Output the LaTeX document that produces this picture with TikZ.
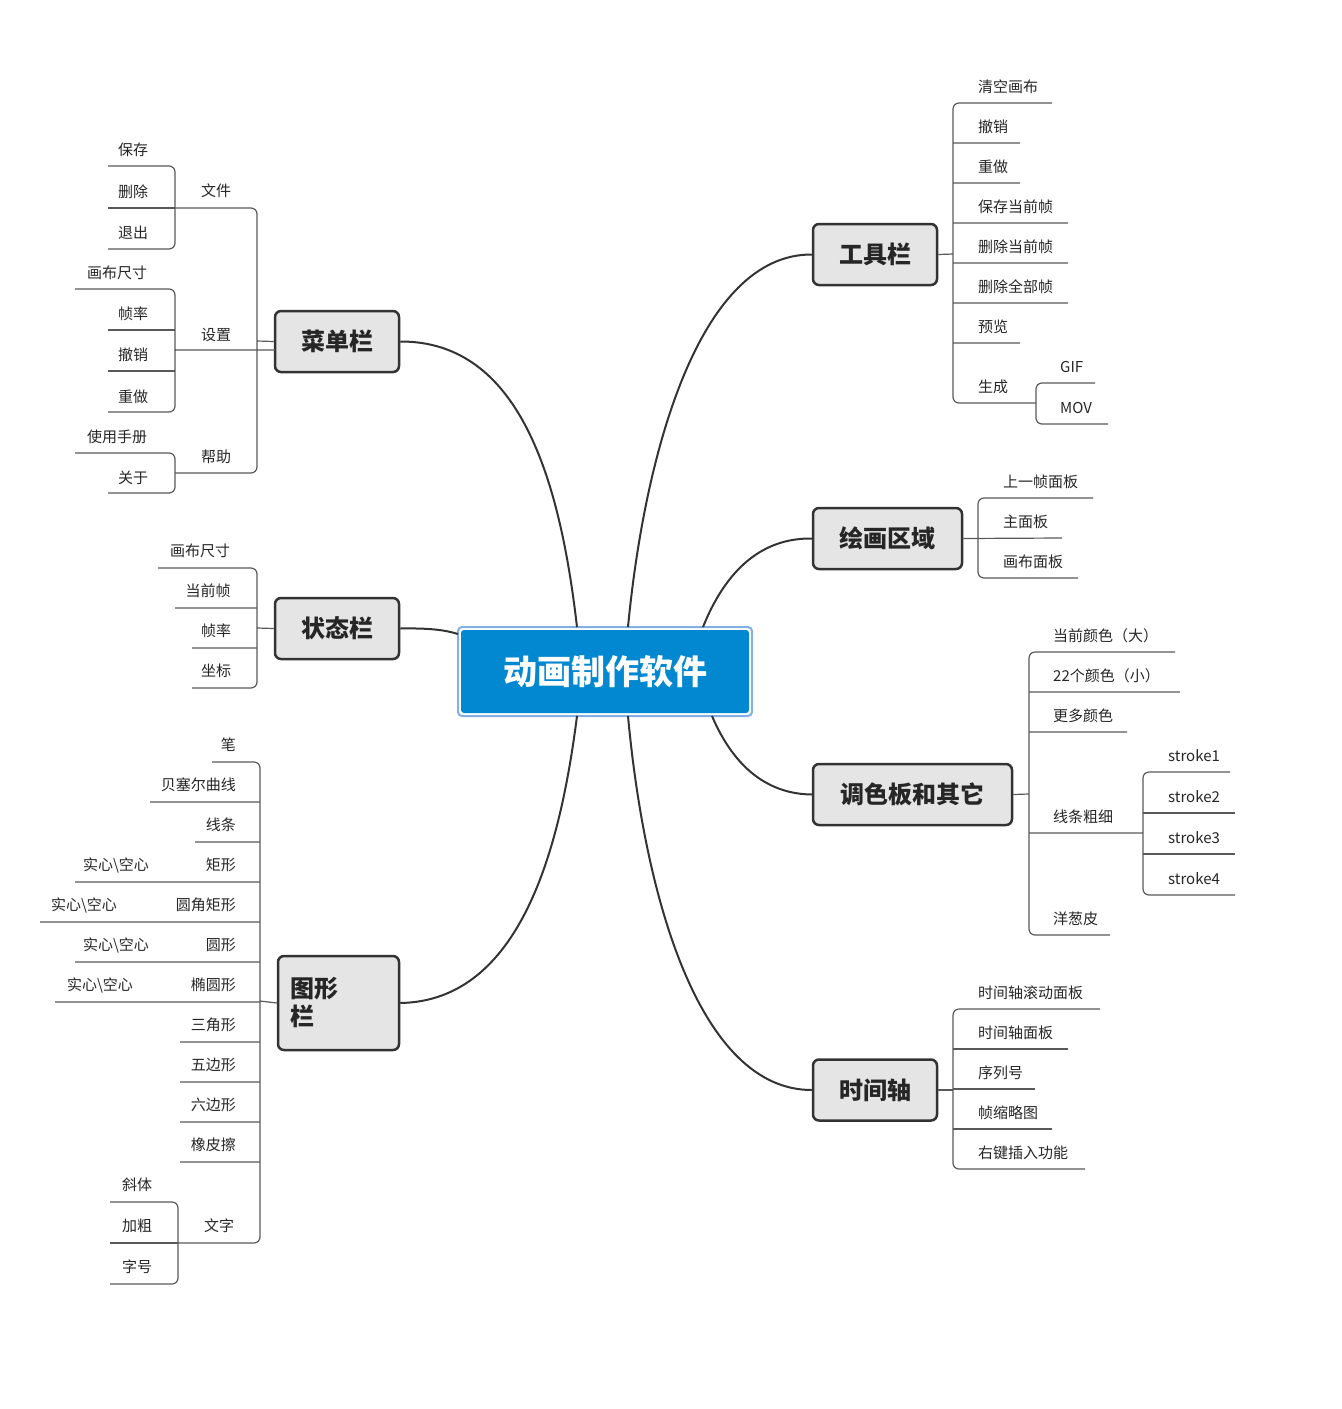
\documentclass[tikz,border=0pt]{standalone}
\usepackage{fontspec}
\newfontfamily\cjk{Noto Sans CJK SC}
\setmainfont{Noto Sans CJK SC}
\begin{document}
\begin{tikzpicture}[x=1pt,y=-1pt,
  lf/.style={font=\fontsize{15}{15}\selectfont, text=black!85, inner sep=0},
  ln/.style={draw=black!65, line width=1.2pt, rounded corners=6pt},
  mb/.style={draw=black!80, line width=2.5pt, fill=black!10, rounded corners=6pt, font=\fontsize{24}{28}\selectfont\bfseries, text=black!85, inner sep=0},
  cv/.style={draw=black!80, line width=2pt}]
\useasboundingbox (0,0) rectangle (1342,1409);
% central
\draw[draw=cyan!60!blue!50, line width=2pt, rounded corners=4pt] (458,627) rectangle (752,716);
\node[fill={rgb,255:red,2;green,136;blue,209}, rounded corners=3pt, minimum width=288pt, minimum height=83pt, text=white, font=\fontsize{34}{34}\selectfont\bfseries] (c) at (605,671.5) {动画制作软件};
% main nodes
\node[mb, minimum width=124pt, minimum height=61pt] (m1) at (337,341.5) {菜单栏};
\node[mb, minimum width=124pt, minimum height=61pt] (m2) at (337,628.5) {状态栏};
\node[mb, minimum width=121pt, minimum height=94pt, align=left, text width=96pt] (m3) at (338.5,1003) {图形\\栏};
\node[mb, minimum width=124pt, minimum height=61pt] (r1) at (875,254.5) {工具栏};
\node[mb, minimum width=149pt, minimum height=61pt] (r2) at (887.5,538.5) {绘画区域};
\node[mb, minimum width=199pt, minimum height=61pt] (r3) at (912.5,794.5) {调色板和其它};
\node[mb, minimum width=124pt, minimum height=61pt] (r4) at (875,1090) {时间轴};
% main curves
\draw[cv] (m1.east) .. controls (520,341) and (560,480) .. (577,627);
\draw[cv] (m2.east) .. controls (430,628) and (445,630) .. (458,634);
\draw[cv] (m3.east) .. controls (520,1001) and (560,850) .. (577,716);
\draw[cv] (628,627) .. controls (645,450) and (700,254) .. (r1.west);
\draw[cv] (703,627) .. controls (730,560) and (770,538) .. (r2.west);
\draw[cv] (712,716) .. controls (735,770) and (770,794) .. (r3.west);
\draw[cv] (628,716) .. controls (645,900) and (700,1090) .. (r4.west);
% ---- 菜单栏
\draw[ln] (175,208) -- (257,208) -- (257,473) -- (175,473);
\draw[ln] (175,350) -- (275,350) (257,341) -- (m1.west);
\node[lf] (a1) at (216,191) {文件};
\node[lf] (a2) at (216,335) {设置};
\node[lf] (a3) at (216,457) {帮助};
\draw[ln] (108,166) -- (175,166) -- (175,249) -- (108,249);
\draw[ln] (108,208) -- (175,208);
\node[lf] at (133,150) {保存};
\node[lf] at (133,192) {删除};
\node[lf] at (133,233) {退出};
\draw[ln] (75,289) -- (175,289) -- (175,412) -- (108,412);
\draw[ln] (108,330) -- (175,330) (108,371) -- (175,371) (175,350) -- (176,350);
\node[lf] at (117,273) {画布尺寸};
\node[lf] at (133,314) {帧率};
\node[lf] at (133,355) {撤销};
\node[lf] at (133,397) {重做};
\draw[ln] (75,453) -- (175,453) -- (175,493) -- (108,493);
\node[lf] at (117,437) {使用手册};
\node[lf] at (133,478) {关于};
% ---- 状态栏
\draw[ln] (158,568) -- (257,568) -- (257,688) -- (192,688);
\draw[ln] (175,608) -- (257,608) (192,648) -- (257,648) (257,628) -- (m2.west);
\node[lf] at (200,551) {画布尺寸};
\node[lf] at (208,591) {当前帧};
\node[lf] at (216,631) {帧率};
\node[lf] at (216,671) {坐标};
% ---- 图形栏
\draw[ln] (212,762) -- (260,762) -- (260,1243) -- (178,1243);
\draw[ln] (150,802) -- (260,802) (195,842) -- (260,842) (75,882) -- (260,882)
  (40,922) -- (260,922) (75,962) -- (260,962) (55,1002) -- (260,1002)
  (180,1042) -- (260,1042) (180,1082) -- (260,1082) (180,1122) -- (260,1122)
  (180,1162) -- (260,1162) (260,1001) -- (m3.west);
\node[lf, anchor=east] at (236,745) {笔};
\node[lf, anchor=east] at (236,785) {贝塞尔曲线};
\node[lf, anchor=east] at (236,825) {线条};
\node[lf, anchor=east] at (236,865) {矩形};
\node[lf, anchor=east] at (236,905) {圆角矩形};
\node[lf, anchor=east] at (236,945) {圆形};
\node[lf, anchor=east] at (236,985) {椭圆形};
\node[lf, anchor=east] at (236,1025) {三角形};
\node[lf, anchor=east] at (236,1065) {五边形};
\node[lf, anchor=east] at (236,1105) {六边形};
\node[lf, anchor=east] at (236,1145) {橡皮擦};
\node[lf] at (219,1226) {文字};
\node[lf] at (116,865) {实心\textbackslash 空心};
\node[lf] at (84,905) {实心\textbackslash 空心};
\node[lf] at (116,945) {实心\textbackslash 空心};
\node[lf] at (100,985) {实心\textbackslash 空心};
\draw[ln] (110,1202) -- (178,1202) -- (178,1284) -- (110,1284);
\draw[ln] (110,1243) -- (178,1243);
\node[lf] at (137,1185) {斜体};
\node[lf] at (137,1226) {加粗};
\node[lf] at (137,1267) {字号};
% ---- 工具栏
\draw[ln] (1052,103) -- (953,103) -- (953,403) -- (1036,403);
\draw[ln] (953,143) -- (1020,143) (953,183) -- (1020,183) (953,223) -- (1068,223)
  (953,263) -- (1068,263) (953,303) -- (1068,303) (953,343) -- (1020,343) (r1.east) -- (953,254);
\node[lf, anchor=west] at (978,87) {清空画布};
\node[lf, anchor=west] at (978,127) {撤销};
\node[lf, anchor=west] at (978,167) {重做};
\node[lf, anchor=west] at (978,207) {保存当前帧};
\node[lf, anchor=west] at (978,247) {删除当前帧};
\node[lf, anchor=west] at (978,287) {删除全部帧};
\node[lf, anchor=west] at (978,327) {预览};
\node[lf, anchor=west] at (978,387) {生成};
\draw[ln] (1095,383) -- (1036,383) -- (1036,424) -- (1108,424);
\node[lf, anchor=west] at (1060,367) {GIF};
\node[lf, anchor=west] at (1060,408) {MOV};
% ---- 绘画区域
\draw[ln] (1093,498) -- (978,498) -- (978,578) -- (1078,578);
\draw[ln] (r2.east) -- (1062,538);
\node[lf, anchor=west] at (1003,482) {上一帧面板};
\node[lf, anchor=west] at (1003,522) {主面板};
\node[lf, anchor=west] at (1003,562) {画布面板};
% ---- 调色板
\draw[ln] (1175,652) -- (1029,652) -- (1029,935) -- (1110,935);
\draw[ln] (1029,692) -- (1180,692) (1029,732) -- (1127,732) (1029,833) -- (1143,833) (r3.east) -- (1029,794);
\node[lf, anchor=west] at (1053,636) {当前颜色（大）};
\node[lf, anchor=west] at (1053,676) {22个颜色（小）};
\node[lf, anchor=west] at (1053,716) {更多颜色};
\node[lf, anchor=west] at (1053,817) {线条粗细};
\node[lf, anchor=west] at (1053,919) {洋葱皮};
\draw[ln] (1230,772) -- (1143,772) -- (1143,895) -- (1235,895);
\draw[ln] (1143,813) -- (1235,813) (1143,854) -- (1235,854);
\node[lf, anchor=west] at (1168,756) {stroke1};
\node[lf, anchor=west] at (1168,797) {stroke2};
\node[lf, anchor=west] at (1168,838) {stroke3};
\node[lf, anchor=west] at (1168,879) {stroke4};
% ---- 时间轴
\draw[ln] (1100,1009) -- (953,1009) -- (953,1169) -- (1085,1169);
\draw[ln] (953,1049) -- (1068,1049) (953,1089) -- (1035,1089) (953,1129) -- (1052,1129) (r4.east) -- (953,1090);
\node[lf, anchor=west] at (978,993) {时间轴滚动面板};
\node[lf, anchor=west] at (978,1033) {时间轴面板};
\node[lf, anchor=west] at (978,1073) {序列号};
\node[lf, anchor=west] at (978,1113) {帧缩略图};
\node[lf, anchor=west] at (978,1153) {右键插入功能};
\end{tikzpicture}
\end{document}
